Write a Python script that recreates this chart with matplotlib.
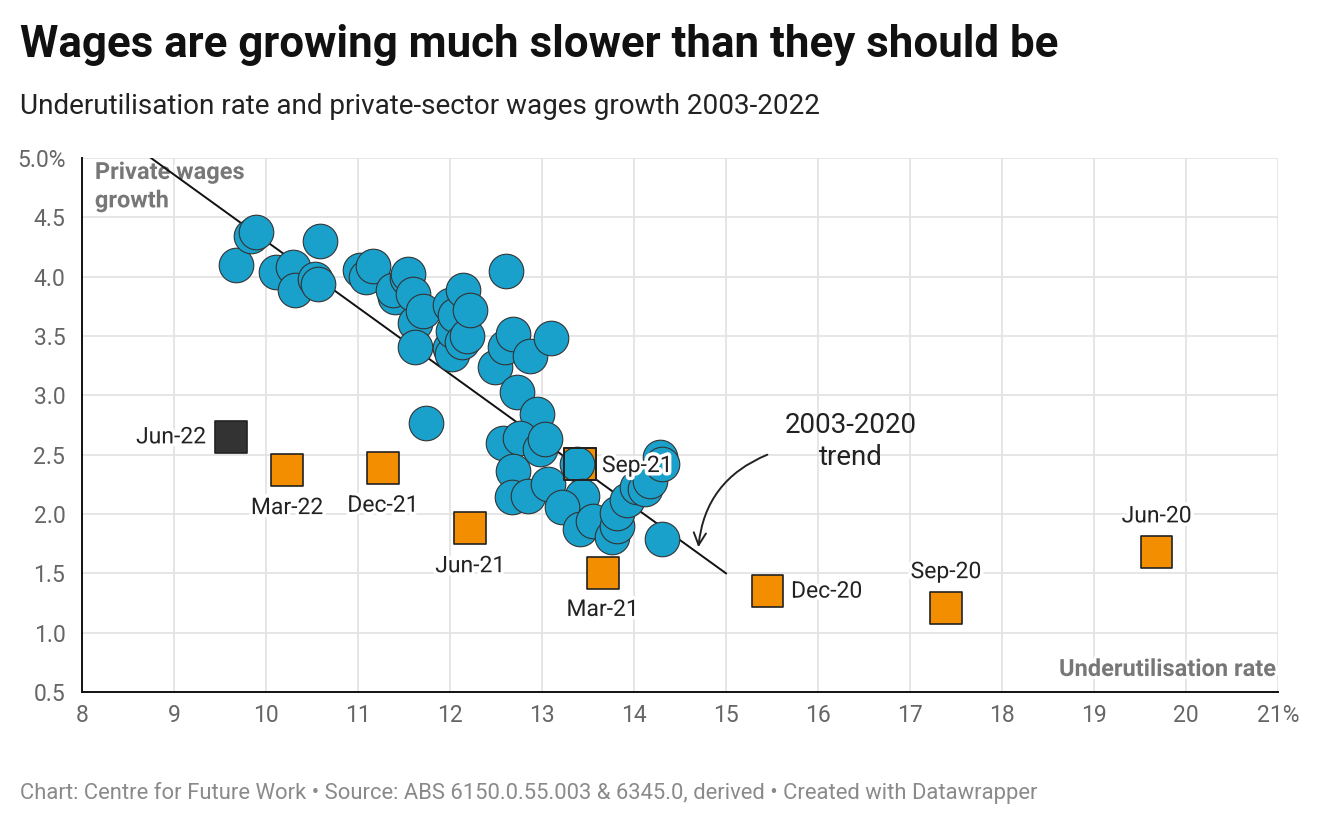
import matplotlib
matplotlib.use("Agg")
import matplotlib.pyplot as plt
import matplotlib.patheffects as pe

plt.rcParams['font.family'] = ['Roboto', 'DejaVu Sans']

# ---- data ----
circle_x = [9.67, 9.84, 9.89, 10.11, 10.29, 10.32, 10.53, 10.57, 10.59,
            11.02, 11.09, 11.16, 11.40, 11.38, 11.53, 11.54, 11.60, 11.62, 11.71, 11.62, 11.74,
            12.00, 12.00, 12.02, 12.03, 12.05, 12.13, 12.14, 12.18, 12.22,
            12.49, 12.58, 12.60, 12.61, 12.68, 12.73, 12.87, 12.95, 13.10,
            12.76, 12.98, 13.03, 12.68, 12.67, 12.85, 13.07, 13.38, 13.43, 13.22,
            13.41, 13.55, 13.76, 13.81, 13.81, 13.92, 14.03, 14.12, 14.17, 14.28, 14.30, 14.30]
circle_y = [4.10, 4.34, 4.38, 4.04, 4.08, 3.89, 3.98, 3.94, 4.30,
            4.06, 4.00, 4.09, 3.83, 3.89, 3.99, 4.02, 3.85, 3.61, 3.71, 3.41, 2.77,
            3.76, 3.40, 3.35, 3.54, 3.68, 3.45, 3.89, 3.50, 3.72,
            3.24, 2.60, 3.41, 4.05, 3.52, 3.03, 3.33, 2.84, 3.48,
            2.64, 2.55, 2.63, 2.36, 2.14, 2.15, 2.25, 2.42, 2.15, 2.06,
            1.87, 1.94, 1.81, 1.90, 2.01, 2.12, 2.23, 2.21, 2.28, 2.48, 2.42, 1.79]

recent_labels = ['Jun-20', 'Sep-20', 'Dec-20', 'Mar-21', 'Jun-21', 'Sep-21', 'Dec-21', 'Mar-22', 'Jun-22']
recent_x = [19.68, 17.39, 15.45, 13.66, 12.22, 13.41, 11.27, 10.23, 9.62]
recent_y = [1.68, 1.21, 1.35, 1.50, 1.88, 2.42, 2.39, 2.37, 2.65]

trend_x = [8.75, 15.0]
trend_y = [5.0, 1.5]

x_ticks = [8, 9, 10, 11, 12, 13, 14, 15, 16, 17, 18, 19, 20, 21]
x_tick_labels = ['8', '9', '10', '11', '12', '13', '14', '15', '16', '17', '18', '19', '20', '21%']
y_ticks = [0.5, 1.0, 1.5, 2.0, 2.5, 3.0, 3.5, 4.0, 4.5, 5.0]
y_tick_labels = ['0.5', '1.0', '1.5', '2.0', '2.5', '3.0', '3.5', '4.0', '4.5', '5.0%']

BLUE = '#19a1cc'
ORANGE = '#f28e00'
DARK = '#333333'

fig = plt.figure(figsize=(13.2, 8.4), dpi=100)
ax = fig.add_axes([82/1320, 1-692/840, (1278-82)/1320, (692-158)/840])

ax.set_xlim(8, 21)
ax.set_ylim(0.5, 5.0)
ax.set_xticks(x_ticks)
ax.set_xticklabels(x_tick_labels)
ax.set_yticks(y_ticks)
ax.set_yticklabels(y_tick_labels)
ax.tick_params(axis='both', length=0, labelsize=16.5, labelcolor='#666666')
ax.tick_params(axis='x', pad=9)
ax.tick_params(axis='y', pad=12)
ax.grid(True, color='#e2e2e2', linewidth=1.2, zorder=0)
ax.set_axisbelow(True)
for s in ['top', 'right']:
    ax.spines[s].set_visible(False)
ax.spines['left'].set_color('#111111')
ax.spines['bottom'].set_color('#111111')
ax.spines['left'].set_linewidth(1.4)
ax.spines['bottom'].set_linewidth(1.4)

halo = [pe.withStroke(linewidth=4, foreground='white')]

# axis titles
ax.text(8.14, 4.975, 'Private wages\ngrowth', ha='left', va='top', fontsize=17,
        fontweight='bold', color='#777777', linespacing=1.3, zorder=2, path_effects=halo)
ax.text(20.98, 0.69, 'Underutilisation rate', ha='right', va='center', fontsize=17,
        fontweight='bold', color='#777777', zorder=2, path_effects=halo)

# trend line
ax.plot(trend_x, trend_y, color='#111111', linewidth=1.4, zorder=3)

# squares
sq_colors = [DARK if l == 'Jun-22' else ORANGE for l in recent_labels]
ax.scatter(recent_x, recent_y, marker='s', s=520, c=sq_colors, edgecolors='#222222',
           linewidths=1.2, zorder=3)

# circles
ax.scatter(circle_x, circle_y, s=620, c=BLUE, edgecolors='#333333', linewidths=0.8, zorder=4)

# Sep-21 outline drawn over circles
i = recent_labels.index('Sep-21')
ax.scatter([recent_x[i]], [recent_y[i]], marker='s', s=520, facecolors='none',
           edgecolors='#222222', linewidths=1.4, zorder=5)

offsets = {
    'Jun-20': (0, 26, 'center'),
    'Sep-20': (0, 26, 'center'),
    'Dec-20': (17, 0, 'left'),
    'Mar-21': (0, -26, 'center'),
    'Jun-21': (0, -27, 'center'),
    'Sep-21': (16, -1, 'left'),
    'Dec-21': (0, -27, 'center'),
    'Mar-22': (0, -27, 'center'),
    'Jun-22': (-18, 0, 'right'),
}
for lab, x, y in zip(recent_labels, recent_x, recent_y):
    dx, dy, ha = offsets[lab]
    ax.annotate(lab, (x, y), xytext=(dx, dy), textcoords='offset points',
                ha=ha, va='center', fontsize=16.5, color='#222222', zorder=6,
                path_effects=[pe.withStroke(linewidth=5, foreground='white')])

# trend annotation
ax.text(16.36, 2.61, '2003-2020\ntrend', ha='center', va='center', fontsize=20,
        color='#222222', linespacing=1.25, zorder=6)
ax.annotate('', xy=(14.70, 1.72), xytext=(15.45, 2.50),
            arrowprops=dict(arrowstyle='->', color='#222222', lw=1.4,
                            connectionstyle='arc3,rad=0.3', mutation_scale=22,
                            shrinkA=0, shrinkB=0), zorder=6)

# titles
fig.text(20/1320, 1-45/840, 'Wages are growing much slower than they should be',
         ha='left', va='center', fontsize=31.6, fontweight='bold', color='#111111')
fig.text(20/1320, 1-107/840, 'Underutilisation rate and private-sector wages growth 2003-2022',
         ha='left', va='center', fontsize=20.1, color='#222222')
fig.text(20/1320, 1-793/840,
         'Chart: Centre for Future Work \u2022 Source: ABS 6150.0.55.003 & 6345.0, derived \u2022 Created with Datawrapper',
         ha='left', va='center', fontsize=15.8, color='#8a8a8a')

fig.savefig('out.png', dpi=100, facecolor='white')
